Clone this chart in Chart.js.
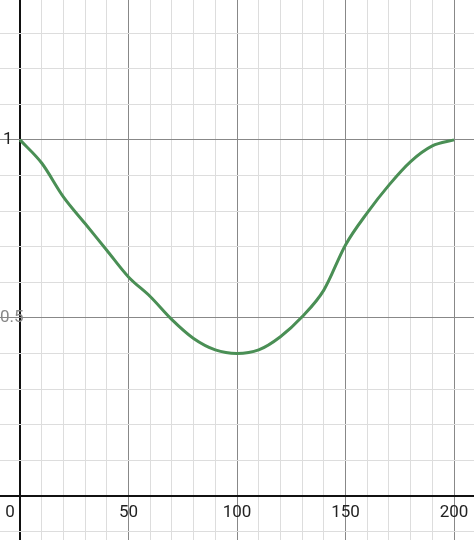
<!DOCTYPE html><html><head><script src="https://cdn.jsdelivr.net/npm/chart.js@4"></script>
<style>html,body{margin:0;padding:0;background:#fff}#c{display:block}</style></head><body>
<div style="width:474px;height:540px"><canvas id="c"></canvas></div>
<script>
const xValues=[0,10,20,30,40,50,60,70,80,90,100,110,120,130,140,150,160,170,180,190,200];
const yValues=[1,0.935,0.84,0.765,0.69,0.615,0.56,0.495,0.442,0.41,0.4,0.41,0.447,0.503,0.578,0.705,0.795,0.873,0.939,0.983,1];
const xTickLabels=[0,50,100,150,200];
const yTickLabels=[0.5,1];
const labelsPlugin={id:'lbl',afterDraw(ch){const c=ch.ctx,x=ch.scales.x,y=ch.scales.y;c.save();c.font='17px Roboto';c.textBaseline='middle';
xTickLabels.forEach(v=>{c.fillStyle='#222';c.textAlign='center';let px=x.getPixelForValue(v);if(v===0)px-=10;c.fillText(String(v),px,y.getPixelForValue(0)+17);});
yTickLabels.forEach(v=>{c.textAlign='left';c.fillStyle=v===1?'#222':'#888';c.fillText(String(v),v===1?3:0,y.getPixelForValue(v));});c.restore();}};
function gc(ax){return ctx=>{const v=ctx.tick.value;if(Math.abs(v)<1e-9)return '#111';const m=ax==='x'?50:0.5;return Math.abs(v/m-Math.round(v/m))<1e-6?'#888':'#ddd';};}
function gw(ctx){return Math.abs(ctx.tick.value)<1e-9?2:1;}
new Chart(document.getElementById('c'),{type:'line',data:{datasets:[{data:xValues.map((v,i)=>({x:v,y:yValues[i]})),borderColor:'#4a8f55',borderWidth:3,pointRadius:0,tension:0.4,cubicInterpolationMode:'monotone',fill:false}]},
options:{responsive:true,maintainAspectRatio:false,animation:false,layout:{padding:0},plugins:{legend:{display:false},tooltip:{enabled:false}},
scales:{x:{type:'linear',min:-9.2,max:209.2,border:{display:false},ticks:{display:false,stepSize:10},afterBuildTicks(s){s.ticks=[];for(let v=0;v<=200;v+=10)s.ticks.push({value:v});},grid:{color:gc('x'),lineWidth:gw,drawTicks:false}},
y:{type:'linear',min:-0.124,max:1.393,border:{display:false},ticks:{display:false},afterBuildTicks(s){s.ticks=[];for(let i=-1;i<=13;i++)s.ticks.push({value:Math.round(i)/10});},grid:{color:gc('y'),lineWidth:gw,drawTicks:false}}}},plugins:[labelsPlugin]});
</script></body></html>
